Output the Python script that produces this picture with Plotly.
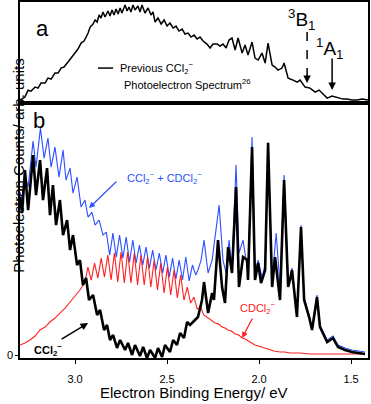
import plotly.graph_objects as go
from plotly.subplots import make_subplots

# panel a: previous CCl2- photoelectron spectrum (arb. units)
prev_energy = [3.299, 3.272, 3.255, 3.239, 3.217, 3.201, 3.185, 3.163, 3.147, 3.130,
               3.109, 3.092, 3.076, 3.060, 3.038, 3.022, 3.000, 2.984, 2.967, 2.951,
               2.940, 2.929, 2.918, 2.902, 2.891, 2.880, 2.869, 2.859, 2.848, 2.837,
               2.821, 2.810, 2.799, 2.788, 2.777, 2.766, 2.755, 2.745, 2.728, 2.717,
               2.707, 2.696, 2.685, 2.674, 2.658, 2.647, 2.636, 2.620, 2.603, 2.587,
               2.576, 2.565, 2.549, 2.532, 2.516, 2.500, 2.484, 2.467, 2.451, 2.435,
               2.418, 2.402, 2.386, 2.370, 2.353, 2.337, 2.321, 2.304, 2.283, 2.266,
               2.250, 2.228, 2.212, 2.196, 2.179, 2.163, 2.147, 2.130, 2.114, 2.092,
               2.076, 2.060, 2.038, 2.022, 2.005, 1.984, 1.967, 1.951, 1.929, 1.913,
               1.897, 1.875, 1.864, 1.842, 1.815, 1.793, 1.777, 1.750, 1.723, 1.695,
               1.674, 1.658, 1.630, 1.603, 1.571, 1.544, 1.522, 1.495, 1.467, 1.440, 1.408]
prev_counts = [3, 6, 13, 12, 16, 15, 20, 20, 25, 24,
               30, 30, 35, 36, 41, 45, 50, 54, 60, 62,
               66, 70, 76, 79, 83, 81, 88, 85, 91, 86,
               92, 87, 93, 88, 94, 89, 95, 90, 98, 92,
               96, 91, 98, 93, 97, 91, 98, 90, 95, 88,
               91, 81, 85, 79, 83, 77, 80, 75, 77, 72,
               74, 69, 70, 66, 68, 64, 66, 62, 59, 55,
               59, 59, 57, 59, 55, 63, 65, 53, 65, 50,
               58, 48, 61, 45, 43, 50, 40, 60, 38, 36,
               33, 35, 40, 25, 23, 21, 23, 16, 15, 11,
               13, 10, 5, 7, 5, 4, 4, 3, 3, 4, 3]

# panel b: CCl2- (black)
ccl2_energy = [3.299, 3.288, 3.272, 3.255, 3.228, 3.212, 3.190, 3.174, 3.152, 3.136,
               3.120, 3.103, 3.082, 3.065, 3.043, 3.027, 3.011, 2.989, 2.973, 2.957,
               2.940, 2.924, 2.902, 2.880, 2.864, 2.842, 2.826, 2.810, 2.793, 2.772,
               2.755, 2.728, 2.712, 2.690, 2.674, 2.647, 2.630, 2.609, 2.592, 2.565,
               2.549, 2.527, 2.511, 2.484, 2.467, 2.446, 2.429, 2.408, 2.391, 2.375,
               2.348, 2.332, 2.310, 2.299, 2.277, 2.255, 2.245, 2.223, 2.201, 2.185,
               2.168, 2.147, 2.125, 2.109, 2.087, 2.065, 2.060, 2.038, 2.022, 2.005,
               1.989, 1.967, 1.951, 1.929, 1.913, 1.886, 1.864, 1.842, 1.832, 1.821,
               1.794, 1.772, 1.755, 1.739, 1.728, 1.712, 1.685, 1.669, 1.652, 1.630,
               1.598, 1.571, 1.533, 1.495, 1.424]
ccl2_counts = [158, 142, 185, 145, 200, 160, 195, 155, 187, 140,
               170, 130, 155, 120, 135, 105, 120, 90, 95, 70,
               77, 55, 60, 40, 45, 25, 30, 15, 20, 7,
               15, 5, 12, 0, 10, -1, 8, -3, 5, -3,
               7, -2, 10, 3, 15, 10, 22, 17, 33, 30,
               35, 38, 55, 73, 42, 62, 55, 115, 68, 52,
               108, 82, 168, 68, 98, 95, 75, 208, 75, 92,
               72, 85, 212, 68, 98, 55, 175, 68, 75, 85,
               38, 128, 55, 45, 38, 25, 58, 28, 22, 13,
               17, 8, 5, 3, 1]

# panel b: CCl2- + CDCl2- (blue)
mix_energy = [3.299, 3.288, 3.272, 3.255, 3.228, 3.212, 3.188, 3.168, 3.147, 3.130,
              3.109, 3.087, 3.065, 3.049, 3.027, 3.011, 2.989, 2.967, 2.946, 2.929,
              2.908, 2.891, 2.869, 2.848, 2.830, 2.812, 2.794, 2.776, 2.758, 2.740,
              2.722, 2.704, 2.686, 2.668, 2.650, 2.632, 2.614, 2.596, 2.578, 2.560,
              2.542, 2.524, 2.506, 2.488, 2.470, 2.452, 2.434, 2.416, 2.398, 2.380,
              2.362, 2.344, 2.332, 2.315, 2.299, 2.277, 2.255, 2.217, 2.196, 2.179,
              2.163, 2.147, 2.125, 2.109, 2.087, 2.060, 2.038, 2.022, 2.005, 1.984,
              1.967, 1.951, 1.929, 1.907, 1.886, 1.864, 1.842, 1.832, 1.821, 1.794,
              1.772, 1.755, 1.739, 1.728, 1.712, 1.685, 1.669, 1.652, 1.630, 1.598,
              1.571, 1.533, 1.495, 1.424]
mix_counts = [163, 155, 180, 168, 214, 188, 227, 197, 217, 188,
              208, 178, 205, 175, 187, 162, 178, 148, 155, 138,
              143, 130, 135, 120, 123, 100, 122, 98, 120, 97,
              118, 93, 115, 92, 110, 90, 108, 87, 105, 85,
              102, 82, 100, 78, 97, 76, 95, 75, 98, 74,
              90, 80, 85, 95, 115, 82, 95, 150, 95, 82,
              115, 88, 190, 102, 115, 82, 218, 82, 95, 78,
              90, 213, 75, 122, 68, 180, 75, 77, 87, 40,
              130, 57, 47, 40, 27, 60, 30, 24, 15, 19,
              10, 7, 5, 3]

# panel b: CDCl2- (red)
cdcl2_energy = [3.299, 3.272, 3.245, 3.217, 3.190, 3.163, 3.136, 3.109, 3.082, 3.054,
                3.027, 3.000, 2.973, 2.946, 2.930, 2.912, 2.894, 2.876, 2.858, 2.840,
                2.822, 2.804, 2.786, 2.768, 2.750, 2.732, 2.714, 2.696, 2.678, 2.660,
                2.642, 2.624, 2.606, 2.588, 2.570, 2.552, 2.534, 2.516, 2.498, 2.480,
                2.462, 2.444, 2.426, 2.408, 2.390, 2.372, 2.354, 2.336, 2.318, 2.300,
                2.277, 2.258, 2.239, 2.220, 2.201, 2.185, 2.168, 2.150, 2.130, 2.110,
                2.092, 2.075, 2.060, 2.040, 2.022, 2.000, 1.984, 1.965, 1.951, 1.920,
                1.886, 1.860, 1.832, 1.780, 1.723, 1.670, 1.614, 1.520, 1.424]
cdcl2_counts = [10, 12, 15, 19, 25, 28, 33, 37, 42, 47,
                53, 59, 65, 73, 88, 75, 92, 77, 97, 78,
                100, 75, 102, 73, 103, 72, 103, 72, 102, 70,
                100, 70, 98, 68, 95, 65, 92, 62, 88, 60,
                85, 57, 80, 55, 68, 52, 58, 46, 48, 40,
                37, 35, 32, 31, 28, 27, 25, 24, 21, 20,
                17, 16, 14, 12, 10, 9, 8, 7, 6, 4,
                3, 3, 2, 2, 1, 1, 1, 1, 1]

tick_vals = [3.0, 2.5, 2.0, 1.5]
tick_text = ["3.0", "2.5", "2.0", "1.5"]

FONT = "Liberation Sans, Arial, sans-serif"
BLUE = "#2b50ff"
RED = "#ff2020"

fig = make_subplots(rows=2, cols=1, shared_xaxes=True, vertical_spacing=0,
                    row_heights=[0.284, 0.716])

fig.add_trace(go.Scatter(x=prev_energy, y=prev_counts, mode="lines",
                         line=dict(color="black", width=1.5)), row=1, col=1)
fig.add_trace(go.Scatter(x=mix_energy, y=mix_counts, mode="lines",
                         line=dict(color=BLUE, width=1.1)), row=2, col=1)
fig.add_trace(go.Scatter(x=cdcl2_energy, y=cdcl2_counts, mode="lines",
                         line=dict(color=RED, width=1.1)), row=2, col=1)
fig.add_trace(go.Scatter(x=ccl2_energy, y=ccl2_counts, mode="lines",
                         line=dict(color="black", width=2.6)), row=2, col=1)

axis_common = dict(showline=True, mirror=True, linecolor="black", linewidth=1.5,
                   showgrid=False, zeroline=False, automargin=False)
fig.update_xaxes(range=[3.299, 1.408], **axis_common)
fig.update_xaxes(showticklabels=False, ticks="", row=1, col=1)
fig.update_xaxes(tickvals=tick_vals, ticktext=tick_text, ticks="outside", ticklen=4,
                 tickcolor="black", ticklabelstandoff=6,
                 tickfont=dict(family=FONT, size=11, color="black"), row=2, col=1)
fig.update_yaxes(**axis_common)
fig.update_yaxes(range=[0, 101], showticklabels=False, ticks="", row=1, col=1)
fig.update_yaxes(range=[-3, 252], tickvals=[0], ticktext=["0"], ticks="outside",
                 ticklen=3, tickcolor="black",
                 tickfont=dict(family=FONT, size=11, color="black"), row=2, col=1)

# legend line in panel a
fig.add_shape(type="line", x0=2.875, x1=2.793, y0=35, y1=35, xref="x", yref="y",
              line=dict(color="black", width=1.5))
# dashed arrow shaft for 3B1
fig.add_shape(type="line", x0=1.739, x1=1.739, y0=71, y1=26, xref="x", yref="y",
              line=dict(color="black", width=1.5, dash="dash"))

ann = []
ann.append(dict(x=0.040, y=0.966, xref="paper", yref="paper", text="a",
                showarrow=False, font=dict(size=22)))
ann.append(dict(x=0.0315, y=0.666, xref="paper", yref="paper", text="b",
                showarrow=False, font=dict(size=22)))
ann.append(dict(x=2.766, y=35, xref="x", yref="y", xanchor="left",
                text="Previous CCl<sub>2</sub><sup>−</sup>", showarrow=False,
                font=dict(size=11)))
ann.append(dict(x=2.745, y=19, xref="x", yref="y", xanchor="left",
                text="Photoelectron Spectrum<sup>26</sup>", showarrow=False,
                font=dict(size=11)))
ann.append(dict(x=1.766, y=84, xref="x", yref="y",
                text="<sup>3</sup>B<sub>1</sub>", showarrow=False, font=dict(size=19)))
ann.append(dict(x=1.614, y=55, xref="x", yref="y",
                text="<sup>1</sup>A<sub>1</sub>", showarrow=False, font=dict(size=19)))
ann.append(dict(x=1.739, y=20, xref="x", yref="y", text="", showarrow=True,
                arrowhead=2, arrowsize=1, arrowwidth=1.5, arrowcolor="black",
                ax=0, ay=-8))
ann.append(dict(x=1.603, y=13, xref="x", yref="y", text="", showarrow=True,
                arrowhead=2, arrowsize=1, arrowwidth=1.5, arrowcolor="black",
                ax=0, ay=-33))

ann.append(dict(x=2.728, y=177, xref="x2", yref="y2", xanchor="left",
                text="CCl<sub>2</sub><sup>−</sup> + CDCl<sub>2</sub><sup>−</sup>",
                showarrow=False, font=dict(size=11, color=BLUE)))
ann.append(dict(x=2.924, y=147, xref="x2", yref="y2", text="", showarrow=True,
                arrowhead=2, arrowsize=1, arrowwidth=1.2, arrowcolor=BLUE,
                ax=29, ay=-28))
ann.append(dict(x=2.114, y=47, xref="x2", yref="y2", xanchor="left",
                text="CDCl<sub>2</sub><sup>−</sup>", showarrow=False,
                font=dict(size=11, color=RED)))
ann.append(dict(x=2.092, y=17, xref="x2", yref="y2", text="", showarrow=True,
                arrowhead=2, arrowsize=1, arrowwidth=1.2, arrowcolor=RED,
                ax=11, ay=-21))
ann.append(dict(x=3.234, y=5, xref="x2", yref="y2", xanchor="left",
                text="<b>CCl<sub>2</sub><sup>−</sup></b>", showarrow=False,
                font=dict(size=11, color="black")))
ann.append(dict(x=2.929, y=32, xref="x2", yref="y2", text="", showarrow=True,
                arrowhead=2, arrowsize=1, arrowwidth=1.5, arrowcolor="black",
                ax=-28, ay=17))

# axis titles
ann.append(dict(x=0.4986, y=-0.098, xref="paper", yref="paper", yanchor="middle",
                text="Electron Binding Energy/ eV", showarrow=False,
                font=dict(size=15)))
ann.append(dict(x=-0.0344, y=0.539, xref="paper", yref="paper", textangle=-90,
                text="Photoelectron Counts/ arb. units", showarrow=False,
                font=dict(size=15)))

fig.update_layout(
    width=371, height=404,
    margin=dict(l=20, r=3, t=2, b=46),
    plot_bgcolor="white", paper_bgcolor="white",
    showlegend=False,
    font=dict(family=FONT, color="black"),
    annotations=ann,
)

fig.write_html("out.html", config={"displayModeBar": False},
               post_script="document.body.style.margin='0px';")
